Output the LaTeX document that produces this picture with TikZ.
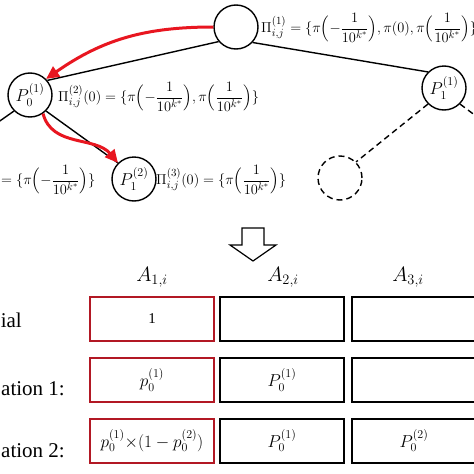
\documentclass[tikz,border=0pt]{standalone}
\usepackage{amsmath}
\usepackage{fontspec}
\setmainfont{Liberation Serif}
\usetikzlibrary{arrows.meta}
\definecolor{arrowred}{RGB}{232,22,32}
\definecolor{boxred}{RGB}{178,24,36}
\newcommand{\pfrac}[1]{\pi\Bigl(#1\dfrac{1}{10^{k^*}}\Bigr)}
\tikzset{
  treenode/.style={circle,draw,line width=1.4pt,minimum size=44pt,inner sep=0pt,font=\fontsize{17}{20}\selectfont},
  edge/.style={line width=1.4pt},
  dashedge/.style={line width=1.4pt,dash pattern=on 6pt off 4pt},
  redarrow/.style={draw=arrowred,line width=3pt,-{Triangle[length=13pt,width=12pt]}},
  lab/.style={inner sep=0pt,font=\fontsize{15.5}{18}\selectfont},
  cell/.style={draw,line width=2pt,minimum width=124pt,minimum height=44pt,inner sep=0pt,font=\fontsize{18}{21}\selectfont},
  redcell/.style={cell,draw=boxred},
  head/.style={inner sep=0pt,font=\fontsize{20}{24}\selectfont},
  rowlab/.style={inner sep=0pt,font=\fontsize{21}{24}\selectfont}
}
\begin{document}
\begin{tikzpicture}[x=1pt,y=-1pt]
\clip (0,0) rectangle (474,474);

\node[treenode] (root) at (236,27) {};
\node[treenode] (p01) at (30,95) {$P_0^{(1)}$};
\node[treenode] (p11) at (444,88) {$P_1^{(1)}$};
\node[treenode] (p12) at (134,179) {$P_1^{(2)}$};
\node[treenode,dash pattern=on 6pt off 4pt] (p13) at (340,178) {};
\coordinate (p02) at (-40,149);
\coordinate (p14) at (500,134);

\draw[edge] (root.-140) -- (p01.40);
\draw[edge] (root.-43) -- (p11.135);
\draw[edge] (p01.-135) -- (p02);
\draw[edge] (p01.-45) -- (p12.135);
\draw[dashedge] (p11.-135) -- (p13.45);
\draw[dashedge] (p11.-45) -- (p14);

\draw[redarrow] (root.west) to[out=180,in=35] (p01.45);
\draw[redarrow] (p01.-55) to[out=-75,in=130] (p12.135);

\node[lab,anchor=west] (lroot) at (261,28) {$\Pi_{i,j}^{(1)}=\{\pfrac{-},\pi(0),\pfrac{}\}$};
\node[lab,anchor=west] (lp01) at (58,97) {$\Pi_{i,j}^{(2)}(0)=\{\pfrac{-},\pfrac{}\}$};
\node[lab,anchor=west] (lp02) at (1,180) {$=\{\pfrac{-}\}$};
\node[lab,anchor=west] (lp12) at (156,180) {$\Pi_{i,j}^{(3)}(0)=\{\pfrac{}\}$};

\draw[line width=1.2pt] (242,228) -- (264,228) -- (264,245) -- (276,245) -- (253,261) -- (230,245) -- (242,245) -- cycle;

\node[head] (h1) at (152,277) {$A_{1,i}$};
\node[head] (h2) at (283,277) {$A_{2,i}$};
\node[head] (h3) at (408,277) {$A_{3,i}$};

\node[redcell] (a11) at (152,319) {\fontsize{15}{18}\selectfont 1};
\node[cell] (a21) at (282,319) {};
\node[cell] (a31) at (414,319) {};

\node[redcell] (a12) at (152,380) {$p_0^{(1)}$};
\node[cell] (a22) at (282,380) {$P_0^{(1)}$};
\node[cell] (a32) at (414,380) {};

\node[redcell] (a13) at (152,440.5) {$p_0^{(1)}{\times}(1-p_0^{(2)})$};
\node[cell] (a23) at (282,440.5) {$P_0^{(1)}$};
\node[cell] (a33) at (414,440.5) {$P_0^{(2)}$};

\node[rowlab,anchor=base east] (r1) at (22,327) {ial};
\node[rowlab,anchor=base east] (r2) at (65,395) {ation 1:};
\node[rowlab,anchor=base east] (r3) at (65,457) {ation 2:};
\end{tikzpicture}
\end{document}
